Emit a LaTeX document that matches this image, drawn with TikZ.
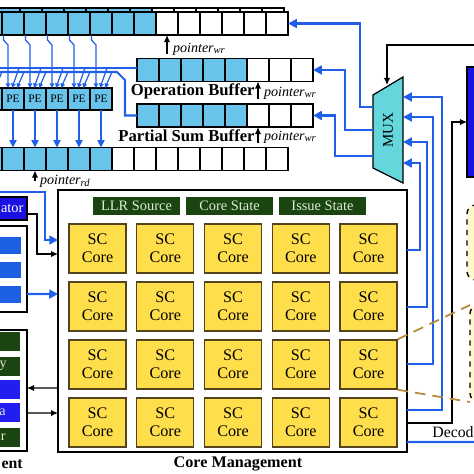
\documentclass[tikz,border=0pt]{standalone}
\usepackage{fontspec}
\setmainfont{Liberation Serif}
\usetikzlibrary{arrows.meta,calc,positioning}
\definecolor{bufblue}{RGB}{104,196,234}
\definecolor{linkblue}{RGB}{32,96,232}
\definecolor{muxcyan}{RGB}{100,214,220}
\definecolor{hdrgreen}{RGB}{26,68,16}
\definecolor{hdrtext}{RGB}{222,236,212}
\definecolor{allocblue}{RGB}{26,16,226}
\definecolor{lpblue}{RGB}{30,96,228}
\definecolor{lpdeep}{RGB}{34,30,240}
\definecolor{coreyellow}{RGB}{255,222,76}
\definecolor{coreborder}{RGB}{84,68,30}
\definecolor{paleyellow}{RGB}{255,247,204}
\definecolor{zoombrown}{RGB}{186,136,52}
\definecolor{decblue}{RGB}{22,20,222}
\tikzset{
  busarr/.style={-{Triangle[length=5pt,width=5pt]}, line width=1.2pt, draw=linkblue},
  busline/.style={line width=1.2pt, draw=linkblue},
  feedarr/.style={-{Triangle[length=2.6pt,width=2.6pt]}, line width=0.7pt, draw=linkblue},
  dropearr/.style={-{Triangle[length=4.2pt,width=4pt]}, line width=0.9pt, draw=linkblue},
  ctrlarr/.style={-{Latex[length=4pt,width=3.6pt]}, line width=0.65pt},
  zoomline/.style={dashed, dash pattern=on 6pt off 4pt, line width=1pt, draw=zoombrown},
}

\begin{document}
\begin{tikzpicture}[
  x=0.02cm, y=-0.02cm,
  font=\fontsize{9}{10}\selectfont,
  cell/.style={draw, line width=0.7pt, fill=bufblue, minimum width=0.44cm, minimum height=0.46cm, inner sep=0pt, outer sep=0pt},
  freecell/.style={cell, fill=white},
  pe/.style={cell, minimum height=0.44cm, font=\fontsize{6.5}{7}\selectfont},
  sccore/.style={draw=coreborder, line width=0.8pt, fill=coreyellow, minimum width=1.14cm, minimum height=0.98cm, align=center, inner sep=0pt, font=\fontsize{9.2}{10.2}\selectfont},
  hdr/.style={fill=hdrgreen, text=hdrtext, minimum width=1.74cm, minimum height=0.36cm, inner sep=0pt, font=\fontsize{8.2}{9}\selectfont},
  ptr/.style={font=\fontsize{8}{9}\selectfont\itshape, anchor=west, inner sep=1pt},
  buflabel/.style={font=\fontsize{9.5}{10}\selectfont\bfseries, inner sep=0pt},
  panel/.style={draw, line width=0.8pt, fill=white, minimum width=1.34cm, inner sep=0pt, outer sep=0pt, anchor=north east},
  lpbox/.style={minimum width=1.2cm, inner sep=0pt, outer sep=0pt, anchor=north east},
  lptext/.style={text=hdrtext, font=\fontsize{8}{9}\selectfont, inner sep=0pt, anchor=east},
  dashbox/.style={draw, dashed, rounded corners=5pt, fill=paleyellow, line width=0.8pt, minimum width=0.6cm, inner sep=0pt, outer sep=0pt, anchor=north west},
]
  \clip (0,0) rectangle (474,474);

  % buffers
  \foreach \i in {0,...,7} \node[cell] (bk-\i) at ({-13+22*\i},19.5) {};
  \foreach \i in {8,...,13} \node[freecell] (bk-\i) at ({-13+22*\i},19.5) {};
  \foreach \i in {0,...,7} \node[cell] (top-\i) at ({-9+22*\i},23.5) {};
  \foreach \i in {8,...,13} \node[freecell] (top-\i) at ({-9+22*\i},23.5) {};
  \foreach \j in {0,...,4} \node[cell] (op-\j) at ({148+22*\j},70) {};
  \foreach \j in {5,6,7} \node[freecell] (op-\j) at ({148+22*\j},70) {};
  \foreach \j in {0,...,4} \node[cell] (ps-\j) at ({148+22*\j},115.5) {};
  \foreach \j in {5,6,7} \node[freecell] (ps-\j) at ({148+22*\j},115.5) {};
  \foreach \i in {0,...,5} \node[cell] (rd-\i) at ({-9+22*\i},159) {};
  \foreach \i in {6,...,13} \node[freecell] (rd-\i) at ({-9+22*\i},159) {};

  \node[buflabel, anchor=east] (oplabel) at (255,91) {Operation Buffer};
  \node[buflabel, anchor=east] (pslabel) at (255,136) {Partial Sum Buffer};

  % PE array
  \node[pe] (pe-0) at (-9,99) {};
  \foreach \k in {1,...,5} \node[pe] (pe-\k) at ({-9+22*\k},99) {PE};

  \coordinate (busA) at (-30,68);
  \coordinate (busB) at (-30,72);
  \draw[busline] (busA) -- (busA -| op-0.west);
  \draw[busline] (busB) -- ++(147,0) -- ++(8,8) |- (ps-0.west);

  \foreach \k in {0,...,5} {
    \draw[feedarr] ($(top-\k.south west)+(1.5,0)$) -- ++(0,5) -- ++(4.5,5) -- ($(pe-\k.north west)+(6,0)$);
    \draw[feedarr] ($(pe-\k.north west)+(17,-20)$) -- ($(pe-\k.north west)+(10,0)$);
    \draw[feedarr] ($(pe-\k.north west)+(22,-16)$) -- ($(pe-\k.north west)+(15,0)$);
  }
  \foreach \k in {1,...,5} \draw[dropearr] (pe-\k.south) -- (rd-\k.north);

  % pointers
  \coordinate (pw1) at (167,54);
  \coordinate (pw2) at (258,99);
  \coordinate (pw3) at (258,143);
  \coordinate (prd) at (35,181);
  \draw[ctrlarr] (pw1) -- (top-8.south);
  \draw[ctrlarr] (pw2) -- (op-5.south);
  \draw[ctrlarr] (pw3) -- (ps-5.south);
  \draw[ctrlarr] (prd) -- (rd-2.south);
  \node[ptr] (pw1t) at (171,49) {pointer\textsubscript{\itshape wr}};
  \node[ptr] (pw2t) at (262,93) {pointer\textsubscript{\itshape wr}};
  \node[ptr] (pw3t) at (262,137) {pointer\textsubscript{\itshape wr}};
  \node[ptr] (prdt) at (38,181) {pointer\textsubscript{\itshape rd}};

  % MUX
  \draw[fill=muxcyan, line width=0.7pt] (373,95) -- (403,77) -- (403,183) -- (373,168) -- cycle;
  \node[minimum width=0.6cm, minimum height=2.12cm, inner sep=0pt, outer sep=0pt] (mux) at (388,130) {};
  \node[rotate=90, font=\fontsize{8.5}{9}\selectfont] (muxtxt) at (mux) {MUX};

  \draw[busarr] ($(mux.north west)+(0,30)$) -| ($(top-13.east)+(72,0)$) -- (top-13.east);
  \draw[busarr] ($(mux.north west)+(0,53)$) -| ($(op-7.east)+(32,0)$) -- (op-7.east);
  \draw[busarr] ($(mux.north west)+(0,79)$) -| ($(ps-7.east)+(22,0)$) -- (ps-7.east);

  \coordinate (selin) at (480,45);
  \draw[ctrlarr] (selin) -| ($(mux.north)+(-1,8)$);

  % core management
  \node[draw, line width=0.8pt, minimum width=6.98cm, minimum height=5.24cm, inner sep=0pt, outer sep=0pt] (cm) at (232.5,321) {};
  \node[hdr] (llr) at (136.5,206) {LLR Source};
  \node[hdr] (cstate) at (229.5,206) {Core State};
  \node[hdr] (istate) at (322.5,206) {Issue State};
  \foreach \r in {1,...,4}
    \foreach \c in {1,...,5}
      \node[sccore] (sc-\r-\c) at ({97.5+67.75*(\c-1)},{248.5+58*(\r-1)}) {SC\\Core};
  \node[buflabel, font=\fontsize{9.2}{10}\selectfont\bfseries] (cmlabel) at (238,464) {Core Management};

  \draw[busarr] ($(cm.north east)+(0,60)$) -| ($(mux.north east)+(17,86)$) -- ($(mux.north east)+(0,86)$);
  \draw[busarr] ($(cm.north east)+(0,117)$) -| ($(mux.north east)+(24,65)$) -- ($(mux.north east)+(0,65)$);
  \draw[busarr] ($(cm.north east)+(0,174)$) -| ($(mux.north east)+(30,40)$) -- ($(mux.north east)+(0,40)$);
  \draw[busarr] ($(cm.north east)+(0,220)$) -| ($(mux.north east)+(39,20)$) -- ($(mux.north east)+(0,20)$);

  % decoder side
  \node[draw, fill=decblue, line width=0.7pt, minimum width=0.36cm, minimum height=2.2cm, inner sep=0pt, outer sep=0pt, anchor=west] (dec) at (467,122) {};
  \draw[ctrlarr] ($(cm.north east)+(0,233)$) -| ($(dec.west)+(-15,0)$) -- (dec.west);
  \coordinate (decout) at (480,442);
  \draw[busline] ($(cm.north east)+(0,252)$) -- (decout);
  \node[anchor=base west, inner sep=0pt] (decodtxt) at (432,437) {Decod};

  \node[dashbox, minimum height=1.5cm] (rb1) at (467,205) {};
  \node[dashbox, minimum height=1.94cm] (rb2) at (470,305) {};

  % left side
  \node[draw, fill=allocblue, text=white, line width=0.7pt, minimum height=0.46cm, text width=1.2cm, align=right, inner xsep=2pt, inner ysep=0pt, outer sep=0pt, anchor=east, font=\fontsize{8.2}{9}\selectfont] (alloc) at (27,208.5) {ator};
  \coordinate (llrin) at (-30,192);
  \draw[busarr] (llrin) -| ($(cm.north west)+(-13,50)$) -- ($(cm.north west)+(0,50)$);
  \draw[ctrlarr] ($(alloc.south east)+(0,-6)$) -| ($(cm.north west)+(-21,64)$) -- ($(cm.north west)+(0,64)$);

  \node[panel, minimum height=1.72cm] (lp1) at (27,226) {};
  \node[lpbox, fill=lpblue, minimum height=0.33cm] (lp1-1) at (21,237) {};
  \node[lpbox, fill=lpblue, minimum height=0.33cm] (lp1-2) at (21,261.5) {};
  \node[lpbox, fill=lpblue, minimum height=0.33cm] (lp1-3) at (21,286) {};
  \draw[busarr] ($(lp1.north east)+(0,68)$) -- ($(cm.north west)+(0,104)$);

  \node[panel, minimum height=2.42cm] (lp2) at (27,330) {};
  \node[lpbox, fill=hdrgreen, minimum height=0.37cm] (lp2-1) at (20,332) {};
  \node[lpbox, fill=hdrgreen, minimum height=0.37cm] (lp2-2) at (20,357) {};
  \node[lpbox, fill=lpdeep, minimum height=0.37cm] (lp2-3) at (20,380) {};
  \node[lpbox, fill=lpdeep, minimum height=0.37cm] (lp2-4) at (20,403) {};
  \node[lpbox, fill=hdrgreen, minimum height=0.37cm] (lp2-5) at (20,428) {};
  \node[lptext] (lp2-2t) at (7,366) {y};
  \node[lptext] (lp2-4t) at (6,412) {a};
  \node[lptext] (lp2-5t) at (6,437) {r};
  \draw[ctrlarr] ($(cm.north west)+(0,198)$) -- ($(lp2.north east)+(0,58)$);
  \draw[ctrlarr] ($(lp2.north east)+(0,83)$) -- ($(cm.north west)+(0,223)$);
  \node[buflabel, font=\fontsize{9}{10}\selectfont\bfseries, anchor=east] (entlabel) at (23,464) {ent};

  % zoom lines
  \draw[zoomline] (sc-3-5.north east) -- (rb2.north west);
  \draw[zoomline] (sc-3-5.south east) -- (rb2.south west);
\end{tikzpicture}
\end{document}
